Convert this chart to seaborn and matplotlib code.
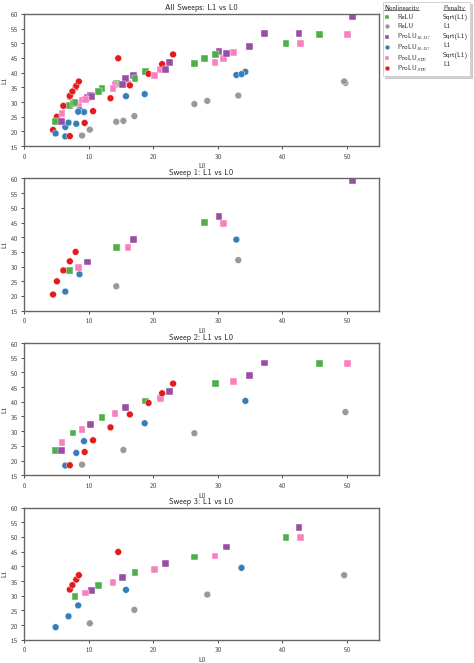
import pandas as pd
import matplotlib.pyplot as plt
import seaborn as sns
from matplotlib.lines import Line2D
from matplotlib.transforms import IdentityTransform

# (L0, L1) points, per sweep and per model
sweep1_relu_sqrt = [(7.0, 28.7), (14.3, 36.4), (28.0, 44.9)]
sweep1_relu_l1 = [(14.3, 23.3), (33.2, 32.2)]
sweep1_prolu_relu_sqrt = [(9.9, 31.6), (17.0, 39.1), (30.2, 47.1), (50.9, 59.2)]
sweep1_prolu_relu_l1 = [(6.4, 21.5), (8.6, 27.4), (32.9, 39.2)]
sweep1_prolu_ste_sqrt = [(8.4, 29.6), (16.1, 36.4), (30.9, 44.7)]
sweep1_prolu_ste_l1 = [(4.5, 20.5), (5.1, 25.0), (6.1, 28.7), (7.1, 31.8), (8.0, 35.0)]

sweep2_relu_sqrt = [(4.9, 23.4), (7.6, 29.4), (12.1, 34.7), (18.8, 40.3), (29.7, 46.3), (45.8, 53.0)]
sweep2_relu_l1 = [(9.0, 18.6), (15.4, 23.6), (26.4, 29.3), (49.8, 36.5)]
sweep2_prolu_relu_sqrt = [(5.8, 23.4), (10.3, 32.3), (15.7, 38.0), (22.6, 43.5), (34.9, 49.0), (37.3, 53.2)]
sweep2_prolu_relu_l1 = [(6.4, 18.3), (8.1, 22.6), (9.3, 26.6), (18.7, 32.7), (34.3, 40.3)]
sweep2_prolu_ste_sqrt = [(5.9, 26.1), (9.0, 30.7), (14.1, 36.0), (21.2, 41.2), (32.4, 47.0), (50.1, 53.1)]
sweep2_prolu_ste_l1 = [(7.1, 18.4), (9.4, 22.9), (10.7, 26.9), (13.4, 31.3), (16.4, 35.7),
                       (19.3, 39.6), (21.4, 42.9), (23.1, 46.2)]

sweep3_relu_sqrt = [(7.9, 29.8), (11.5, 33.6), (17.2, 38.0), (26.4, 43.2), (40.6, 49.8)]
sweep3_relu_l1 = [(10.2, 20.6), (17.1, 25.2), (28.4, 30.4), (49.6, 37.0)]
sweep3_prolu_relu_sqrt = [(10.5, 31.9), (15.2, 36.1), (21.9, 41.0), (31.4, 46.6), (42.6, 53.2)]
sweep3_prolu_relu_l1 = [(4.9, 19.3), (6.9, 23.0), (8.4, 26.7), (15.8, 32.0), (33.7, 39.5)]
sweep3_prolu_ste_sqrt = [(9.5, 30.9), (13.8, 34.5), (20.2, 38.9), (29.6, 43.5), (42.8, 49.8)]
sweep3_prolu_ste_l1 = [(7.1, 32.1), (7.5, 33.6), (8.1, 35.5), (8.5, 37.0), (14.6, 44.9)]

groups = ['relu_sqrt', 'relu_l1', 'prolu_relu_sqrt', 'prolu_relu_l1', 'prolu_ste_sqrt', 'prolu_ste_l1']
names = ['ReLU', 'ReLU', r'ProLU$_{\mathit{ReLU}}$', r'ProLU$_{\mathit{ReLU}}$',
         r'ProLU$_{\mathit{STE}}$', r'ProLU$_{\mathit{STE}}$']
penalties = ['Sqrt(L1)', 'L1', 'Sqrt(L1)', 'L1', 'Sqrt(L1)', 'L1']
colors = ['#4daf4a', '#999999', '#984ea3', '#377eb8', '#f781bf', '#e41a1c']
sweep_titles = ['Sweep 1: L1 vs L0', 'Sweep 2: L1 vs L0', 'Sweep 3: L1 vs L0']

sweeps = [
    [sweep1_relu_sqrt, sweep1_relu_l1, sweep1_prolu_relu_sqrt, sweep1_prolu_relu_l1,
     sweep1_prolu_ste_sqrt, sweep1_prolu_ste_l1],
    [sweep2_relu_sqrt, sweep2_relu_l1, sweep2_prolu_relu_sqrt, sweep2_prolu_relu_l1,
     sweep2_prolu_ste_sqrt, sweep2_prolu_ste_l1],
    [sweep3_relu_sqrt, sweep3_relu_l1, sweep3_prolu_relu_sqrt, sweep3_prolu_relu_l1,
     sweep3_prolu_ste_sqrt, sweep3_prolu_ste_l1],
]

# Build one long table
rows = []
for si, sweep in enumerate(sweeps):
    for g, pen, pts in zip(groups, penalties, sweep):
        for l0, l1 in pts:
            rows.append({'sweep': si + 1, 'group': g, 'penalty': pen, 'L0': l0, 'L1': l1})
df = pd.DataFrame(rows)

palette = dict(zip(groups, colors))
markers = {'Sqrt(L1)': 's', 'L1': 'o'}

sns.set_style('ticks')
plt.rcParams['font.family'] = ['cmss10', 'DejaVu Sans']
plt.rcParams['mathtext.fontset'] = 'cm'
plt.rcParams['mathtext.default'] = 'rm'
plt.rcParams['axes.unicode_minus'] = False
plt.rcParams['axes.formatter.use_mathtext'] = True

fig, axes = plt.subplots(4, 1, figsize=(4.74, 6.63), dpi=100)
fig.subplots_adjust(left=0.0506, right=0.7996, top=0.979, bottom=0.035, hspace=0.245)

panels = [(df, 'All Sweeps: L1 vs L0')] + [(df[df['sweep'] == i + 1], t) for i, t in enumerate(sweep_titles)]

for ax, (d, title) in zip(axes, panels):
    sns.scatterplot(data=d, x='L0', y='L1', hue='group', style='penalty', palette=palette,
                    markers=markers, s=24, linewidth=0.3, edgecolor='white', legend=False, ax=ax)
    ax.set_xlim(0, 55)
    ax.set_ylim(15, 60)
    ax.set_xticks(range(0, 51, 10))
    ax.set_yticks(range(15, 61, 5))
    ax.set_title(title, fontsize=6, pad=2.5)
    ax.set_xlabel('L0', fontsize=5, labelpad=2)
    ax.set_ylabel('L1', fontsize=5, labelpad=2)
    ax.tick_params(labelsize=4.5, length=2.5, width=0.6, pad=1.5, color='#333333')
    for sp in ax.spines.values():
        sp.set_color('#666666')
        sp.set_linewidth(1.0)

# Legend laid out as a small two-column table
blank = Line2D([], [], linestyle='none')
handles = [blank] + [Line2D([], [], linestyle='none', marker=markers[p], color=c, markersize=3.5,
                            markeredgecolor='white', markeredgewidth=0.3)
                     for p, c in zip(penalties, colors)] + [blank] * 7
labels = ['Nonlinearity'] + names + ['Penalty'] + penalties
leg = axes[0].legend(handles, labels, ncol=2, loc='upper left', bbox_to_anchor=(1.01, 1.09),
                     borderaxespad=0, fontsize=5, handlelength=0.9, handletextpad=1.0,
                     columnspacing=-0.4, labelspacing=0.0, borderpad=0.25, frameon=True,
                     fancybox=False, edgecolor='0.8',
                     shadow={'color': '0.5', 'alpha': 0.35, 'ox': 1.5, 'oy': -1.5})
leg.get_frame().set_linewidth(0.6)

# same row height in both columns so the rows line up
for col in leg._legend_handle_box.get_children():
    for row in col.get_children():
        box = row.get_children()[0]
        box.height = 6.8
        box.ydescent = 2.6

texts = leg.get_texts()
texts[0].set_x(-13)

fig.canvas.draw()
for t in (texts[0], texts[7]):
    bb = t.get_window_extent()
    fig.add_artist(Line2D([bb.x0, bb.x1], [bb.y0 + 0.5, bb.y0 + 0.5], color='#333333',
                          linewidth=0.5, transform=IdentityTransform()))

plt.savefig('out.png', dpi=100)
